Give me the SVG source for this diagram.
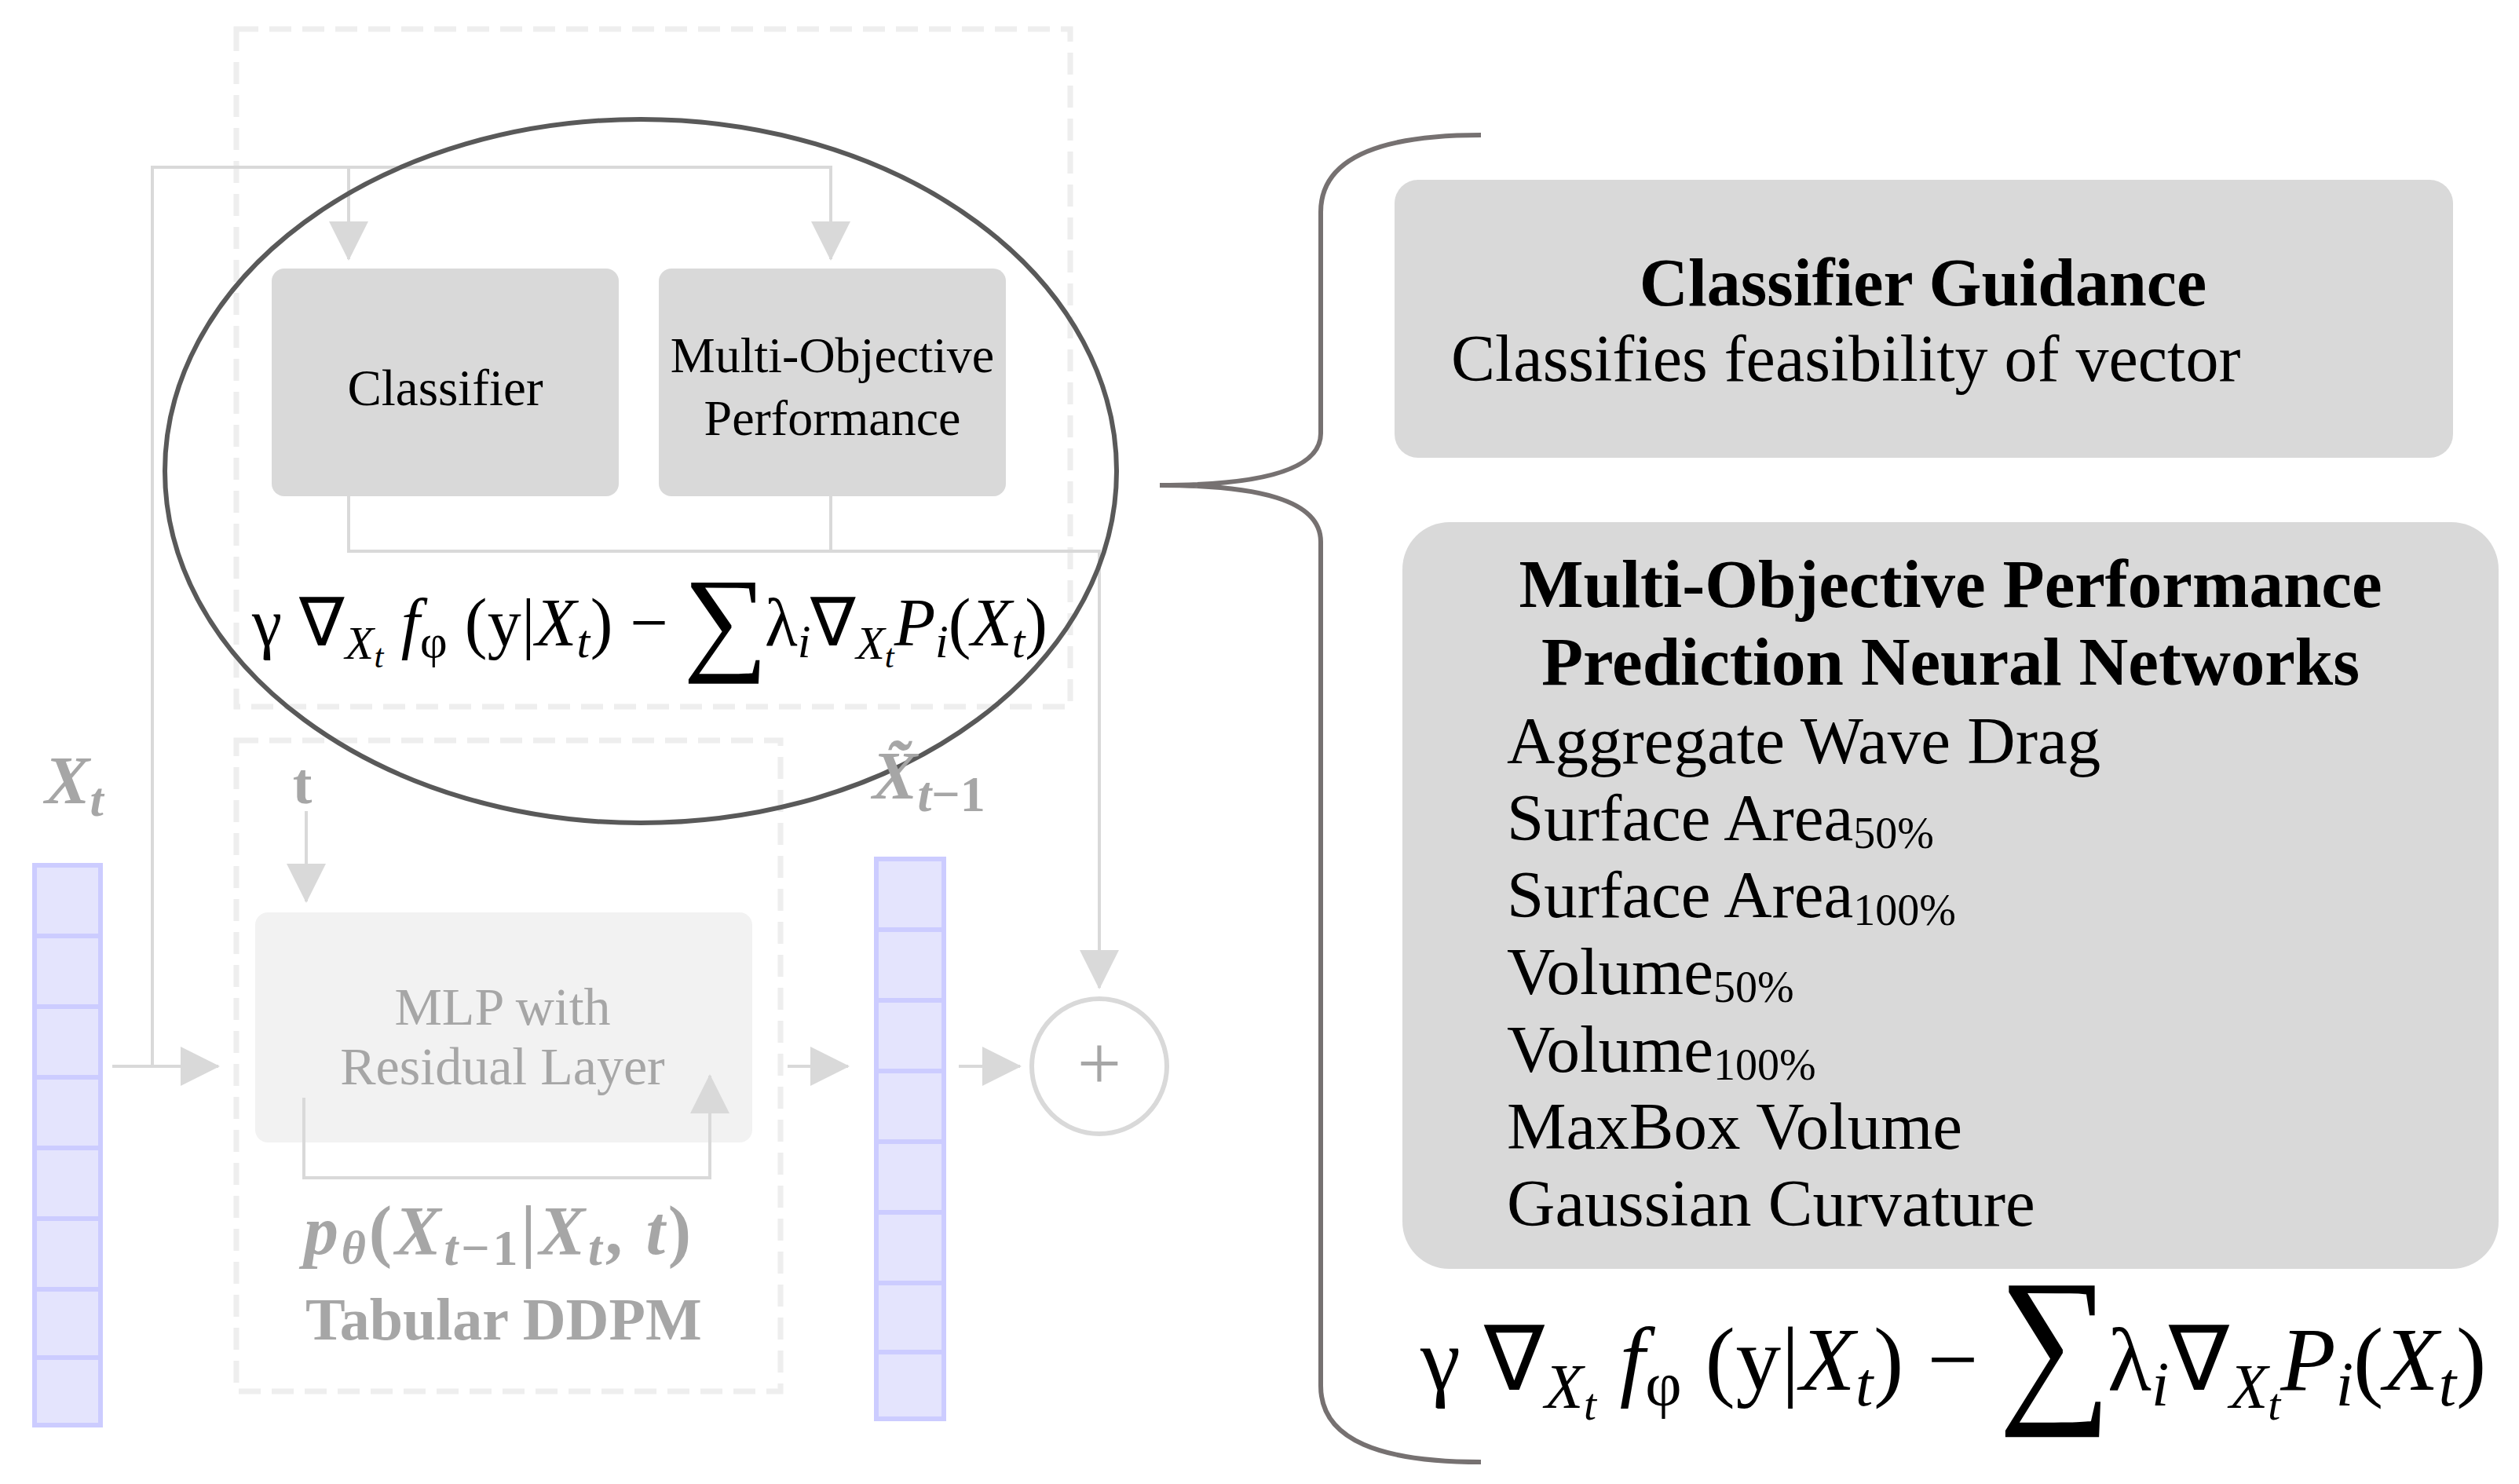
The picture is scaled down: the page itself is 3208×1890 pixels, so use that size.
<svg xmlns="http://www.w3.org/2000/svg" width="3208" height="1890" viewBox="0 0 3208 1890">
<style>
text{font-family:"Liberation Serif","Times New Roman",serif}
.blk{fill:#000}
.gry{fill:#a6a6a6}
.it{font-style:italic}
.b{font-weight:bold}
.conn{fill:none;stroke:#d9d9d9;stroke-width:4}
.dash{fill:none;stroke:#eeeeee;stroke-width:7;stroke-dasharray:28 14}
.cell{fill:#e4e4fd;stroke:#ccccff;stroke-width:6}
.box{fill:#d9d9d9}
</style>
<defs>
<marker id="ah" markerUnits="userSpaceOnUse" markerWidth="50" markerHeight="50" refX="48" refY="25" orient="auto">
<path d="M0,0 L50,25 L0,50 z" fill="#d9d9d9"/>
</marker>
</defs>
<rect width="3208" height="1890" fill="#fff"/>

<g id="dashed-frames">
<rect class="dash" x="301" y="37" width="1062" height="863"/>
<rect class="dash" x="301" y="943" width="693" height="829"/>
</g>

<g id="classifier">
<rect class="box" x="346" y="342" width="442" height="290" rx="16"/>
<text class="blk" x="567" y="516" font-size="65" text-anchor="middle">Classifier</text>
</g>
<g id="mop">
<rect class="box" x="839" y="342" width="442" height="290" rx="16"/>
<text class="blk" x="1060" y="474" font-size="64" text-anchor="middle">Multi-Objective</text>
<text class="blk" x="1060" y="554" font-size="64" text-anchor="middle">Performance</text>
</g>

<g id="ddpm">
<text class="gry b" x="385" y="1023" font-size="74" text-anchor="middle">t</text>
<rect x="325" y="1162" width="633" height="293" rx="16" fill="#f2f2f2"/>
<text class="gry" x="640" y="1305" font-size="68" text-anchor="middle">MLP with</text>
<text class="gry" x="640" y="1381" font-size="68" text-anchor="middle">Residual Layer</text>
<text class="gry b" x="387" y="1597" font-size="88" textLength="493" lengthAdjust="spacing"><tspan class="it">p</tspan><tspan class="it" font-size="60" dy="12">θ</tspan><tspan dy="-12">(</tspan><tspan class="it">X</tspan><tspan class="it" font-size="64" dy="14">t</tspan><tspan font-size="64">−1</tspan><tspan dy="-14">|</tspan><tspan class="it">X</tspan><tspan class="it" font-size="64" dy="14">t</tspan><tspan dy="-14">, </tspan><tspan class="it">t</tspan>)</text>
<text class="gry b" x="389" y="1706" font-size="76">Tabular DDPM</text>
</g>

<g id="connectors">
<path class="conn" d="M194,1358 V213 H1058 V330" marker-end="url(#ah)"/>
<path class="conn" d="M444,213 V330" marker-end="url(#ah)"/>
<path class="conn" d="M143,1358 H278" marker-end="url(#ah)"/>
<path class="conn" d="M444,632 V702 H1400 V1258" marker-end="url(#ah)"/>
<path class="conn" d="M1058,632 V702"/>
<path class="conn" d="M390,1033 V1148" marker-end="url(#ah)"/>
<path class="conn" d="M387,1398 V1500 H904 V1370" stroke-width="6" marker-end="url(#ah)"/>
<path class="conn" d="M1003,1358 H1080" marker-end="url(#ah)"/>
<path class="conn" d="M1221,1358 H1299" marker-end="url(#ah)"/>
</g>

<g id="formula-inner" transform="translate(321,822)">
<text class="blk" x="0" y="0" font-size="86" textLength="530" lengthAdjust="spacing">γ ∇<tspan class="it" font-size="60" dy="17">X</tspan><tspan class="it" font-size="43" dy="11">t</tspan><tspan class="it" dy="-28"> f</tspan><tspan font-size="60" dy="15">φ</tspan><tspan dy="-15"> (y|</tspan><tspan class="it">X</tspan><tspan class="it" font-size="60" dy="15">t</tspan><tspan dy="-15">) −</tspan></text>
<text class="blk" font-size="135" font-family="DejaVu Serif" transform="translate(549,17) scale(1.12,1.1)">∑</text>
<text class="blk" x="653" y="0" font-size="86" textLength="360" lengthAdjust="spacing">λ<tspan class="it" font-size="60" dy="15">i</tspan><tspan dy="-15">∇</tspan><tspan class="it" font-size="60" dy="17">X</tspan><tspan class="it" font-size="43" dy="11">t</tspan><tspan class="it" dy="-28">P</tspan><tspan class="it" font-size="60" dy="15">i</tspan><tspan dy="-15">(</tspan><tspan class="it">X</tspan><tspan class="it" font-size="60" dy="15">t</tspan><tspan dy="-15">)</tspan></text>
</g>

<g id="ellipse">
<ellipse cx="816" cy="600" rx="606" ry="448" fill="none" stroke="#595959" stroke-width="6"/>
</g>

<g id="xt-bar">
<text class="gry b it" x="57" y="1023" font-size="86">X<tspan font-size="62" dy="16">t</tspan></text>
<rect class="cell" x="44" y="1102" width="84" height="90"/>
<rect class="cell" x="44" y="1192" width="84" height="90"/>
<rect class="cell" x="44" y="1282" width="84" height="90"/>
<rect class="cell" x="44" y="1372" width="84" height="90"/>
<rect class="cell" x="44" y="1462" width="84" height="90"/>
<rect class="cell" x="44" y="1552" width="84" height="90"/>
<rect class="cell" x="44" y="1642" width="84" height="87"/>
<rect class="cell" x="44" y="1729" width="84" height="86"/>
</g>

<g id="xt1-bar">
<rect class="cell" x="1116" y="1094" width="86" height="90"/>
<rect class="cell" x="1116" y="1184" width="86" height="90"/>
<rect class="cell" x="1116" y="1274" width="86" height="90"/>
<rect class="cell" x="1116" y="1364" width="86" height="90"/>
<rect class="cell" x="1116" y="1454" width="86" height="90"/>
<rect class="cell" x="1116" y="1544" width="86" height="90"/>
<rect class="cell" x="1116" y="1634" width="86" height="88"/>
<rect class="cell" x="1116" y="1722" width="86" height="85"/>
<text class="gry b it" x="1111" y="1017" font-size="86">X̃<tspan font-size="64" dy="16">t</tspan><tspan font-size="64" font-style="normal">−1</tspan></text>
</g>

<g id="plus">
<circle cx="1400" cy="1358" r="86" fill="#fff" stroke="#d9d9d9" stroke-width="6"/>
<text x="1400" y="1388" font-size="100" fill="#a6a6a6" text-anchor="middle">+</text>
</g>

<g id="brace">
<path d="M1886,172 C1760,172 1682,200 1682,270 V552 C1682,600 1600,618 1477,618 C1600,618 1682,636 1682,690 V1765 C1682,1835 1760,1862 1886,1862" fill="none" stroke="#767171" stroke-width="6"/>
</g>

<g id="classifier-guidance">
<rect class="box" x="1776" y="229" width="1348" height="354" rx="30"/>
<text class="blk b" x="2449" y="389" font-size="86" text-anchor="middle">Classifier Guidance</text>
<text class="blk" x="1848" y="485" font-size="84">Classifies feasibility of vector</text>
</g>

<g id="mop-networks">
<rect class="box" x="1786" y="665" width="1396" height="951" rx="60"/>
<text class="blk b" x="2484" y="773" font-size="87" text-anchor="middle">Multi-Objective Performance</text>
<text class="blk b" x="2484" y="872" font-size="87" text-anchor="middle">Prediction Neural Networks</text>
<text class="blk" x="1919" y="972" font-size="85">Aggregate Wave Drag</text>
<text class="blk" x="1919" y="1070" font-size="85">Surface Area<tspan font-size="56" dy="10">50%</tspan></text>
<text class="blk" x="1919" y="1168" font-size="85">Surface Area<tspan font-size="56" dy="10">100%</tspan></text>
<text class="blk" x="1919" y="1266" font-size="85">Volume<tspan font-size="56" dy="10">50%</tspan></text>
<text class="blk" x="1919" y="1365" font-size="85">Volume<tspan font-size="56" dy="10">100%</tspan></text>
<text class="blk" x="1919" y="1463" font-size="85">MaxBox Volume</text>
<text class="blk" x="1919" y="1561" font-size="85">Gaussian Curvature</text>
</g>

<g id="formula-right" transform="translate(1809,1770) scale(1.34)">
<text class="blk" x="0" y="0" font-size="86" textLength="530" lengthAdjust="spacing">γ ∇<tspan class="it" font-size="60" dy="17">X</tspan><tspan class="it" font-size="43" dy="11">t</tspan><tspan class="it" dy="-28"> f</tspan><tspan font-size="60" dy="15">φ</tspan><tspan dy="-15"> (y|</tspan><tspan class="it">X</tspan><tspan class="it" font-size="60" dy="15">t</tspan><tspan dy="-15">) −</tspan></text>
<text class="blk" font-size="135" font-family="DejaVu Serif" transform="translate(549,10) scale(1.12,1.23)">∑</text>
<text class="blk" x="653" y="0" font-size="86" textLength="360" lengthAdjust="spacing">λ<tspan class="it" font-size="60" dy="15">i</tspan><tspan dy="-15">∇</tspan><tspan class="it" font-size="60" dy="17">X</tspan><tspan class="it" font-size="43" dy="11">t</tspan><tspan class="it" dy="-28">P</tspan><tspan class="it" font-size="60" dy="15">i</tspan><tspan dy="-15">(</tspan><tspan class="it">X</tspan><tspan class="it" font-size="60" dy="15">t</tspan><tspan dy="-15">)</tspan></text>
</g>
</svg>
